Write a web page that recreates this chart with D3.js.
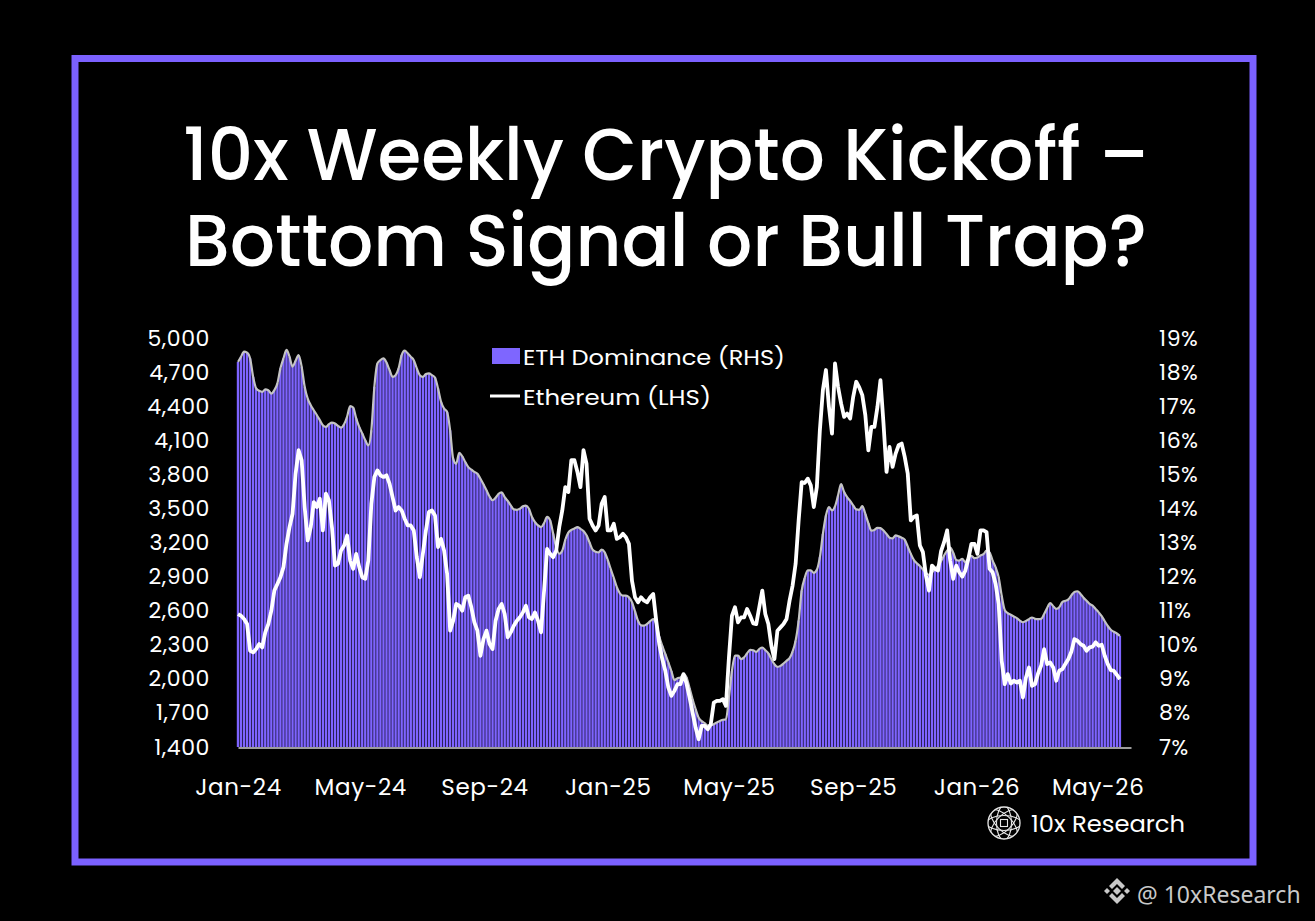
<!DOCTYPE html>
<html>
<head>
<meta charset="utf-8">
<script src="https://cdn.jsdelivr.net/npm/d3@7"></script>
<style>
  body { margin: 0; background: #000; }
  svg text { font-family: Poppins, Inter, "DejaVu Sans", sans-serif; fill: #fff; }
</style>
</head>
<body>
<svg id="chart" width="1315" height="921"></svg>
<script>
// 数据: 从 2024-01-01 起每 3 天一个点
const startDate = "2024-01-01";
const stepDays = 3;

// Ethereum 价格 (左轴, USD)
const ethPrice = [
  2570, 2555, 2527, 2482, 2247, 2233, 2262, 2306, 2277, 2409,
  2482, 2600, 2777, 2835, 2894, 2983, 3188, 3335, 3453, 3806,
  4012, 3924, 3512, 3218, 3335, 3556, 3512, 3585, 3306, 3630,
  3571, 3335, 2997, 3012, 3130, 3174, 3262, 3041, 2968, 3100,
  2983, 2894, 2880, 3041, 3541, 3777, 3835, 3791, 3777, 3791,
  3718, 3600, 3482, 3512, 3482, 3409, 3350, 3350, 3306, 3071,
  2894, 3100, 3306, 3468, 3482, 3438, 3159, 3232, 3130, 2924,
  2424, 2512, 2659,
  2644, 2600, 2718, 2732, 2630, 2497, 2424, 2203, 2350, 2424,
  2306, 2262, 2512, 2615, 2659, 2571, 2365, 2409, 2468, 2512,
  2541, 2585, 2644, 2541, 2527, 2585, 2512, 2409, 2777, 3144,
  3100, 3071, 3130, 3335, 3482, 3688, 3644, 3924, 3924, 3821,
  3688, 4012, 3894, 3409, 3350, 3306, 3350, 3541, 3600, 3306,
  3306, 3365, 3232, 3247, 3277, 3247, 3188, 2865, 2718, 2674,
  2718, 2688, 2674, 2718, 2747, 2512, 2306, 2174, 2071, 1924,
  1850, 1894, 1953,
  1953, 2041, 1959, 1836, 1703, 1571, 1468, 1586, 1586, 1556,
  1600, 1791, 1806, 1806, 1821, 1762, 2188, 2556, 2630, 2497,
  2541, 2541, 2615, 2556, 2488, 2482, 2630, 2777, 2571, 2482,
  2291, 2174, 2424, 2453, 2482, 2527, 2688, 2821, 3012, 3394,
  3732, 3724, 3762, 3703, 3512, 3688, 4188, 4541, 4718, 4394,
  4159, 4776, 4571, 4424, 4306, 4335, 4291, 4482, 4615, 4565,
  4497, 4321, 4012, 4218, 4218, 4394, 4629, 4247, 3821, 4041,
  3865, 3982, 4056, 4071,
  3953, 3806, 3394, 3424, 3438, 3174, 3115, 2909, 2777, 2997,
  2968, 2953, 3124, 3203, 3306, 3041, 2880, 2997, 2938, 2900,
  2953, 3056, 3188, 3188, 3100, 3306, 3306, 3291, 2968, 2938,
  2835, 2659, 2159, 1953, 2041, 1959, 1983, 1968, 1983, 1836,
  2012, 2100, 1938, 1953, 2047, 2115, 2262, 2130, 2144, 2100,
  1983, 2071, 2085, 2130, 2174, 2241, 2350, 2335, 2306, 2291,
  2247, 2277, 2283, 2321, 2291, 2300, 2203, 2130, 2077, 2071,
  2035, 1997
];

// ETH 市占率 % (右轴)
const ethDominance = [
  18.30, 18.45, 18.60, 18.57, 18.40, 17.86, 17.52, 17.45, 17.42, 17.49,
  17.47, 17.37, 17.47, 17.67, 18.11, 18.40, 18.65, 18.45, 18.16, 18.33,
  18.50, 18.16, 17.57, 17.22, 17.03, 16.88, 16.74, 16.59, 16.44, 16.39,
  16.47, 16.52, 16.49, 16.42, 16.37, 16.47, 16.69, 17.00, 16.96, 16.64,
  16.39, 16.20, 16.00, 15.85, 16.29, 17.57, 18.25, 18.35, 18.40, 18.28,
  18.06, 17.86, 17.91, 18.11, 18.50, 18.63, 18.55, 18.45, 18.35, 18.11,
  17.91, 17.86, 17.94, 17.96, 17.91, 17.84, 17.52, 17.13, 16.93, 16.83,
  16.29, 15.46, 15.31,
  15.63, 15.53, 15.36, 15.21, 15.14, 15.07, 15.02, 14.87, 14.71, 14.53,
  14.35, 14.24, 14.31, 14.43, 14.47, 14.33, 14.22, 14.09, 13.97, 13.96,
  13.99, 14.06, 14.08, 13.99, 13.75, 13.60, 13.50, 13.45, 13.57, 13.75,
  13.65, 13.26, 12.86, 12.67, 12.76, 13.08, 13.29, 13.37, 13.41, 13.45,
  13.40, 13.34, 13.21, 13.00, 12.79, 12.73, 12.71, 12.79, 12.71, 12.49,
  12.22, 11.96, 11.69, 11.51, 11.44, 11.44, 11.39, 11.25, 10.98, 10.70,
  10.57, 10.56, 10.61, 10.69, 10.75, 10.61, 10.24, 9.97, 9.73, 9.48,
  9.23, 8.96, 9.02,
  9.04, 9.14, 9.04, 8.73, 8.40, 8.11, 7.86, 7.76, 7.70, 7.63,
  7.64, 7.67, 7.72, 7.76, 7.80, 7.81, 8.45, 9.24, 9.68, 9.68,
  9.58, 9.63, 9.75, 9.85, 9.84, 9.79, 9.87, 9.92, 9.84, 9.75,
  9.58, 9.43, 9.35, 9.38, 9.45, 9.53, 9.61, 9.80, 10.12, 10.71,
  11.59, 11.96, 12.18, 12.18, 12.11, 12.20, 12.57, 13.25, 13.79, 14.04,
  13.94, 14.06, 14.38, 14.71, 14.48, 14.33, 14.22, 14.09, 13.97, 13.96,
  14.07, 13.84, 13.57, 13.35, 13.37, 13.43, 13.42, 13.35, 13.25, 13.14,
  13.12, 13.21, 13.18, 13.14,
  13.08, 12.88, 12.67, 12.49, 12.39, 12.31, 12.21, 12.11, 12.05, 12.13,
  12.21, 12.32, 12.45, 12.62, 12.76, 12.85, 12.70, 12.49, 12.47, 12.52,
  12.42, 12.56, 12.61, 12.54, 12.56, 12.62, 12.66, 12.76, 12.71, 12.47,
  12.27, 11.98, 11.44, 11.02, 10.93, 10.88, 10.83, 10.78, 10.71, 10.66,
  10.70, 10.75, 10.80, 10.76, 10.75, 10.76, 10.90, 11.08, 11.22, 11.13,
  11.05, 11.10, 11.25, 11.29, 11.33, 11.45, 11.55, 11.57, 11.49, 11.38,
  11.29, 11.20, 11.15, 11.05, 10.95, 10.84, 10.69, 10.55, 10.44, 10.38,
  10.33, 10.26
];

// 坐标轴刻度
const leftTicks = [1400, 1700, 2000, 2300, 2600, 2900, 3200, 3500, 3800, 4100, 4400, 4700, 5000];
const rightTicks = [7, 8, 9, 10, 11, 12, 13, 14, 15, 16, 17, 18, 19];
const xTickDates = ["2024-01-01", "2024-05-01", "2024-09-01", "2025-01-01",
                    "2025-05-01", "2025-09-01", "2026-01-01", "2026-05-01"];
const xDomain = ["2024-01-01", "2026-06-03"];

const titleLines = ["10x Weekly Crypto Kickoff \u2013", "Bottom Signal or Bull Trap?"];
const legendLabels = ["ETH Dominance (RHS)", "Ethereum (LHS)"];

const purple = "#7b61ff";
const parseDate = d3.timeParse("%Y-%m-%d");

const svg = d3.select("#chart");

drawFrame();
drawChart();
drawLegend();
drawBranding();

// 外框 + 标题
function drawFrame() {
    svg.append("rect")
        .attr("width", 1315).attr("height", 921)
        .attr("fill", "#000");

    svg.append("rect")
        .attr("x", 75).attr("y", 58.5)
        .attr("width", 1178).attr("height", 803.5)
        .attr("fill", "none")
        .attr("stroke", purple)
        .attr("stroke-width", 7);

    // 两行标题放在同一个 text 里
    const title = svg.append("text")
        .attr("class", "title")
        .attr("text-anchor", "middle")
        .attr("font-size", 73)
        .attr("font-weight", 500);

    title.selectAll("tspan")
        .data(titleLines)
        .enter()
        .append("tspan")
        .attr("x", 666)
        .attr("y", (d, i) => 180 + i * 86)
        .attr("textLength", (d, i) => i === 0 ? 966 : 962)
        .attr("lengthAdjust", "spacingAndGlyphs")
        .text(d => d);
}

// 主图
function drawChart() {
    const dates = ethPrice.map((d, i) => d3.timeDay.offset(parseDate(startDate), i * stepDays));

    const x = d3.scaleTime()
        .domain(xDomain.map(parseDate))
        .range([238, 1131]);
    const yLeft = d3.scaleLinear().domain([1400, 5000]).range([747, 338]);
    const yRight = d3.scaleLinear().domain([7, 19]).range([747, 338]);

    // 柱状: 市占率
    svg.append("g")
        .selectAll("rect")
        .data(ethDominance)
        .enter()
        .append("rect")
        .attr("x", (d, i) => x(dates[i]) - 1.2)
        .attr("width", 2.4)
        .attr("y", d => yRight(d))
        .attr("height", d => yRight(7) - yRight(d))
        .attr("fill", "#7e64ff");

    // 灰线: 市占率走势
    const domLine = d3.line()
        .x((d, i) => x(dates[i]))
        .y(d => yRight(d))
        .curve(d3.curveMonotoneX);

    svg.append("path")
        .datum(ethDominance)
        .attr("d", domLine)
        .attr("fill", "none")
        .attr("stroke", "#c4c4c4")
        .attr("stroke-width", 2.2);

    // 白线: ETH 价格
    const priceLine = d3.line()
        .x((d, i) => x(dates[i]))
        .y(d => yLeft(d));

    svg.append("path")
        .datum(ethPrice)
        .attr("d", priceLine)
        .attr("fill", "none")
        .attr("stroke", "#fff")
        .attr("stroke-width", 3.8)
        .attr("stroke-linejoin", "round");

    // 左轴
    svg.append("g")
        .attr("transform", "translate(210,0)")
        .call(d3.axisLeft(yLeft).tickValues(leftTicks).tickSize(0).tickPadding(0)
            .tickFormat(d3.format(",")))
        .call(g => g.select(".domain").remove())
        .call(styleAxis);

    // 右轴
    svg.append("g")
        .attr("transform", "translate(1159,0)")
        .call(d3.axisRight(yRight).tickValues(rightTicks).tickSize(0).tickPadding(0)
            .tickFormat(d => d + "%"))
        .call(g => g.select(".domain").remove())
        .call(styleAxis);

    // 底轴
    svg.append("g")
        .attr("transform", "translate(0,747.5)")
        .call(d3.axisBottom(x).tickValues(xTickDates.map(parseDate)).tickSize(0)
            .tickSizeOuter(0).tickPadding(31).tickFormat(d3.timeFormat("%b-%y")))
        .call(g => g.select(".domain").attr("stroke", "#d0d0d0").attr("stroke-width", 1.5))
        .call(styleAxis)
        .call(g => g.selectAll("text").attr("font-size", 23));
}

function styleAxis(g) {
    g.attr("font-family", null).attr("font-size", 22);
    g.selectAll("text")
        .attr("fill", "#fff")
        .attr("letter-spacing", 0.6);
}

// 图例
function drawLegend() {
    const lg = svg.append("g");

    lg.append("rect")
        .attr("x", 492).attr("y", 348)
        .attr("width", 28).attr("height", 16)
        .attr("fill", "#7e66ff");

    lg.append("line")
        .attr("x1", 490).attr("x2", 520)
        .attr("y1", 396).attr("y2", 396)
        .attr("stroke", "#fff")
        .attr("stroke-width", 3);

    lg.selectAll("text")
        .data(legendLabels)
        .enter()
        .append("text")
        .attr("x", 523)
        .attr("y", (d, i) => 365 + i * 40)
        .attr("font-size", 22)
        .attr("textLength", (d, i) => i === 0 ? 262 : 188)
        .attr("lengthAdjust", "spacingAndGlyphs")
        .text(d => d);
}

// 10x Research 标志 + 水印
function drawBranding() {
    const logo = svg.append("g").attr("transform", "translate(1004,823)");
    logo.append("clipPath").attr("id", "logo-clip")
        .append("circle").attr("r", 16);
    const lattice = logo.append("g").attr("clip-path", "url(#logo-clip)");
    [0, 45, 90, 135].forEach(a => {
        lattice.append("ellipse")
            .attr("rx", 17).attr("ry", 7.5)
            .attr("transform", `rotate(${a})`)
            .attr("fill", "none")
            .attr("stroke", "#e6e6e6")
            .attr("stroke-width", 1.1);
    });
    logo.append("rect")
        .attr("x", -3.5).attr("y", -3.5)
        .attr("width", 7).attr("height", 7)
        .attr("fill", "none")
        .attr("stroke", "#e6e6e6")
        .attr("stroke-width", 1.1);
    logo.append("circle")
        .attr("r", 16)
        .attr("fill", "none")
        .attr("stroke", "#e6e6e6")
        .attr("stroke-width", 1.3);

    svg.append("text")
        .attr("x", 1031).attr("y", 832)
        .attr("font-size", 23)
        .attr("textLength", 154)
        .attr("lengthAdjust", "spacingAndGlyphs")
        .attr("fill", "#f2f2f2")
        .text("10x Research");

    // 水印图标
    const mark = svg.append("g")
        .attr("transform", "translate(1117,891)")
        .attr("fill", "#c9c9c9");
    mark.append("path").attr("d", "M0,-4L4,0L0,4L-4,0Z");
    mark.append("path").attr("d", "M-10,-3L-7,0L-10,3L-13,0Z");
    mark.append("path").attr("d", "M10,-3L13,0L10,3L7,0Z");
    mark.append("path").attr("d", "M0,-13L8,-5L5,-2L0,-7L-5,-2L-8,-5Z");
    mark.append("path").attr("d", "M0,13L8,5L5,2L0,7L-5,2L-8,5Z");

    svg.append("text")
        .attr("x", 1137).attr("y", 903)
        .attr("font-size", 23)
        .style("font-family", "'Noto Sans', 'DejaVu Sans', sans-serif")
        .style("fill", "#c9c9c9")
        .text("@ 10xResearch");
}
</script>
</body>
</html>
